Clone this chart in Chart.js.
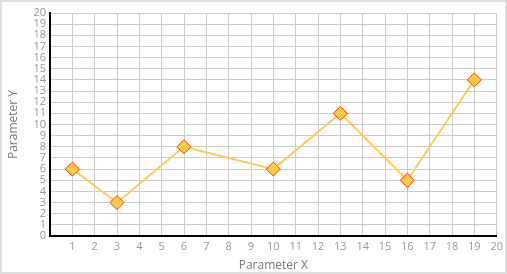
<!DOCTYPE html>
<html>
<head>
<meta charset="utf-8">
<script src="https://cdn.jsdelivr.net/npm/chart.js@4"></script>
<style>
  html, body { margin: 0; padding: 0; background: #fff; }
  #wrap { width: 507px; height: 274px; position: relative; }
</style>
</head>
<body>
<div id="wrap"><canvas id="chart" width="507" height="274"></canvas></div>
<script>
const xValues = [1, 3, 6, 10, 13, 16, 19];
const yValues = [6, 3, 8, 6, 11, 5, 14];
const xTitle = 'Parameter X';
const yTitle = 'Parameter Y';

const frame = {
  id: 'frame',
  afterDraw(chart) {
    const c = chart.ctx;
    c.save();
    c.strokeStyle = '#dddddd';
    c.lineWidth = 2;
    c.strokeRect(1, 1, chart.width - 2, chart.height - 2);
    c.restore();
  }
};

const font = { family: 'Open Sans', size: 11 };

new Chart(document.getElementById('chart'), {
  type: 'line',
  data: {
    datasets: [{
      data: xValues.map((x, i) => ({ x, y: yValues[i] })),
      borderColor: '#ffcc55',
      borderWidth: 2,
      backgroundColor: '#ffcc44',
      pointBackgroundColor: '#ffcc44',
      pointBorderColor: '#ff3300',
      pointBorderWidth: 1,
      pointStyle: 'rectRot',
      pointRadius: 7,
      tension: 0
    }]
  },
  options: {
    responsive: false,
    animation: false,
    layout: { padding: { left: 0, right: 9, top: 13, bottom: 0 } },
    plugins: { legend: { display: false }, tooltip: { enabled: false } },
    scales: {
      x: {
        type: 'linear', min: 0, max: 20,
        afterFit: s => { s.height = 38; },
        grid: { color: '#cccccc', drawTicks: false },
        border: { color: '#000000', width: 2 },
        ticks: { stepSize: 1, autoSkip: false, maxRotation: 0, color: '#999999', font, padding: 4,
                 callback: v => v === 0 ? '' : v },
        title: { display: true, text: xTitle, color: '#777777',
                 font: { family: 'Open Sans', size: 12 }, padding: { top: 0, bottom: 1 } }
      },
      y: {
        min: 0, max: 20,
        afterFit: s => { s.width = 50; },
        grid: { color: '#cccccc', drawTicks: false },
        border: { color: '#000000', width: 2 },
        ticks: { stepSize: 1, autoSkip: false, color: '#999999', font, padding: 4 },
        title: { display: true, text: yTitle, color: '#777777',
                 font: { family: 'Open Sans', size: 12 }, padding: { top: 6, bottom: 0 } }
      }
    }
  },
  plugins: [frame]
});
</script>
</body>
</html>
